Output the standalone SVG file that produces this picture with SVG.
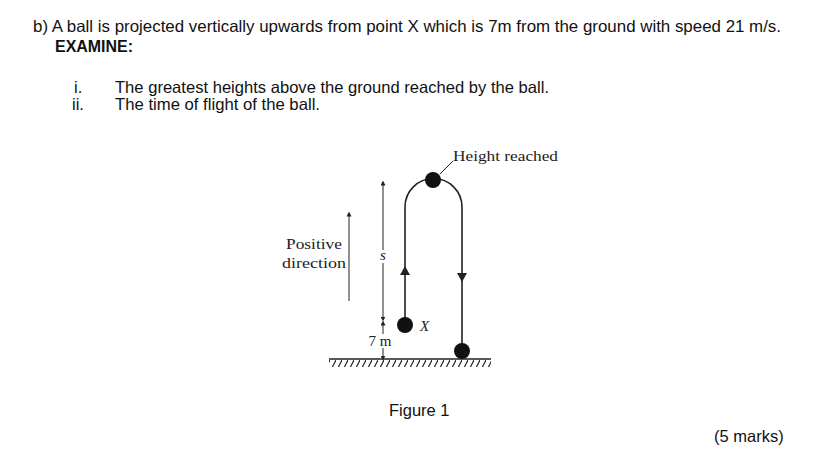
<svg xmlns="http://www.w3.org/2000/svg" width="827" height="463" viewBox="0 0 827 463">
<style>
.t{font-family:"Liberation Sans",Arial,sans-serif;font-size:16.5px;fill:#111}
.f{font-family:"Liberation Serif","Times New Roman",serif;font-size:15px;fill:#222}
.ln{stroke:#222;stroke-width:1.6;fill:none}
.th{stroke:#222;stroke-width:1;fill:none}
</style>
<defs>
<marker id="ah" viewBox="0 0 6 6" refX="3" refY="3" markerWidth="5" markerHeight="5" orient="auto"><path d="M0,0L6,3L0,6z" fill="#222"/></marker>
<pattern id="hatch" width="6" height="8" patternUnits="userSpaceOnUse"><path d="M6,0L2,8" stroke="#222" stroke-width="1.2"/></pattern>
</defs>
<rect width="827" height="463" fill="#fff"/>
<text class="t" x="33" y="32" textLength="748" lengthAdjust="spacingAndGlyphs">b) A ball is projected vertically upwards from point X which is 7m from the ground with speed 21 m/s.</text>
<text class="t" x="55" y="52" font-weight="bold" textLength="78" lengthAdjust="spacingAndGlyphs">EXAMINE:</text>
<text class="t" x="74" y="93">i.</text>
<text class="t" x="115" y="93" textLength="434" lengthAdjust="spacingAndGlyphs">The greatest heights above the ground reached by the ball.</text>
<text class="t" x="72" y="110">ii.</text>
<text class="t" x="115" y="110" textLength="205" lengthAdjust="spacingAndGlyphs">The time of flight of the ball.</text>
<g id="ground">
<line class="ln" x1="329" y1="359" x2="491" y2="359"/>
<rect x="329" y="360" width="162" height="7" fill="url(#hatch)"/>
</g>
<g id="connectors">
<line class="th" x1="349" y1="301" x2="349" y2="214" marker-end="url(#ah)"/>
<line class="th" x1="383" y1="250" x2="383" y2="183" marker-end="url(#ah)"/>
<line class="th" x1="383" y1="263" x2="383" y2="319" marker-end="url(#ah)"/>
<line class="th" x1="383" y1="334" x2="383" y2="323" marker-end="url(#ah)"/>
<line class="th" x1="383" y1="348" x2="383" y2="358" marker-end="url(#ah)"/>
<path class="ln" d="M405,325V207A28.5,28.5 0 0 1 462,207V351"/>
<path d="M400,275L405,266L410,275z" fill="#222"/>
<path d="M457,273L462,282L467,273z" fill="#222"/>
<line class="th" x1="440" y1="174" x2="453" y2="161"/>
</g>
<g id="ballTop"><circle cx="433" cy="180" r="8" fill="#111"/></g>
<g id="ballX"><circle cx="405" cy="325" r="8" fill="#111"/><text class="f" x="420" y="331" font-style="italic">X</text></g>
<g id="ballGround"><circle cx="462" cy="351" r="8" fill="#111"/></g>
<g id="labels">
<text class="f" x="453" y="161" textLength="105" lengthAdjust="spacingAndGlyphs">Height reached</text>
<text class="f" x="314" y="249" text-anchor="middle" textLength="56" lengthAdjust="spacingAndGlyphs">Positive</text>
<text class="f" x="314" y="268" text-anchor="middle" textLength="64" lengthAdjust="spacingAndGlyphs">direction</text>
<text class="f" x="383" y="260" text-anchor="middle" font-style="italic" font-size="9">s</text>
<text class="f" x="380" y="346" text-anchor="middle">7 m</text>
</g>
<text class="t" x="389" y="416">Figure 1</text>
<text class="t" x="714" y="442">(5 marks)</text>
</svg>
